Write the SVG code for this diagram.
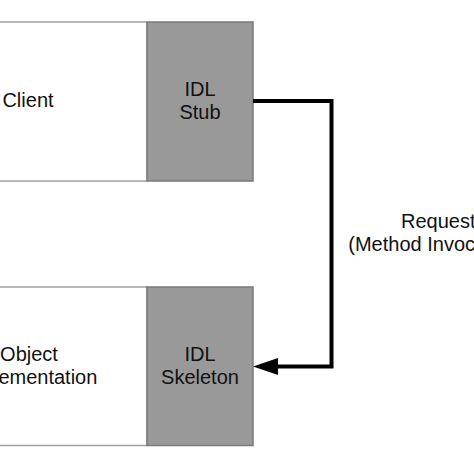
<svg xmlns="http://www.w3.org/2000/svg" width="474" height="474" viewBox="0 0 474 474">
<style>
.white{fill:#ffffff;stroke:#a0a0a0;stroke-width:1.5}
.gray{fill:#999999;stroke:#7a7a7a;stroke-width:1.5}
text{font-family:"Liberation Sans",Arial,sans-serif;font-size:20px;fill:#111}
.c{text-anchor:middle}
.conn{fill:none;stroke:#000;stroke-width:4;stroke-linejoin:miter}
</style>
<rect width="474" height="474" fill="#fff"/>
<g id="client">
<rect class="white" x="-5" y="22" width="152" height="159"/>
<text class="c" x="28" y="107">Client</text>
</g>
<g id="stub">
<rect class="gray" x="147" y="22" width="106" height="159"/>
<text class="c" x="200" y="95.5">IDL</text>
<text class="c" x="200" y="119.3">Stub</text>
</g>
<g id="impl">
<rect class="white" x="-5" y="287" width="152" height="158.5"/>
<text class="c" x="29" y="360.7">Object</text>
<text class="c" x="29" y="384.3">Implementation</text>
</g>
<g id="skeleton">
<rect class="gray" x="147" y="287" width="106" height="158.5"/>
<text class="c" x="200" y="360.7">IDL</text>
<text class="c" x="200" y="384.3">Skeleton</text>
</g>
<g id="connectors">
<polyline class="conn" points="253,101 331.5,101 331.5,366.5 275,366.5"/>
<polygon points="253,366.5 278,358 278,375" fill="#000"/>
<text x="401" y="227.7">Request</text>
<text x="348.3" y="251">(Method Invocation)</text>
</g>
</svg>
